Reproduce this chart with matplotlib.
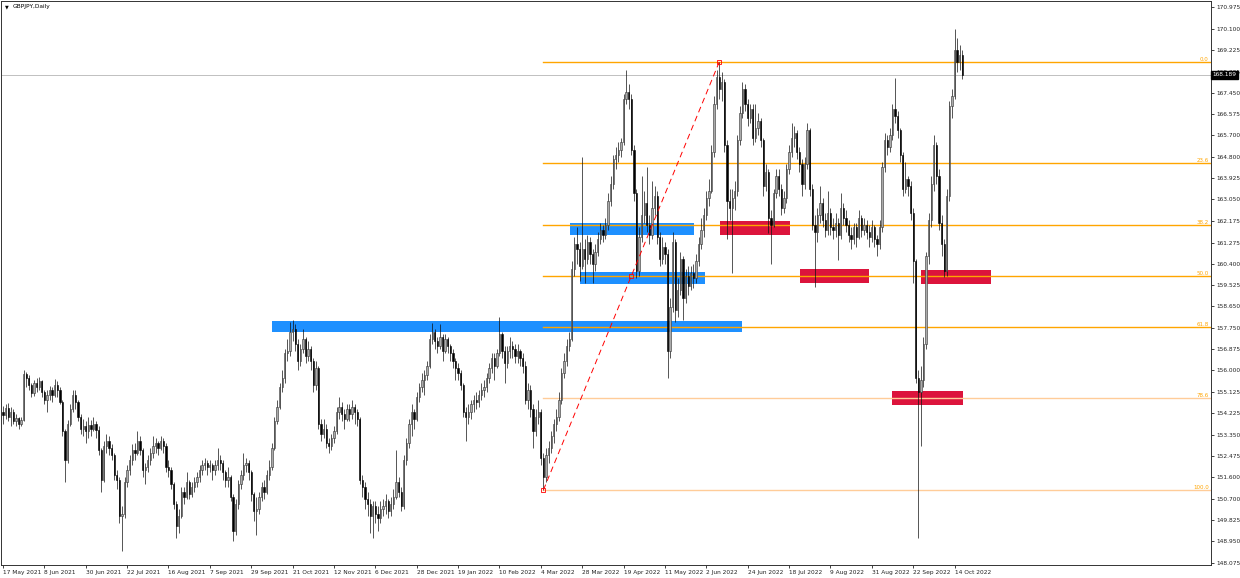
import matplotlib
matplotlib.use('Agg')
import matplotlib.pyplot as plt
from matplotlib.patches import Rectangle
import matplotlib.transforms as mtransforms
import numpy as np

symbol = 'GBPJPY,Daily'

# daily bars, 17 May 2021 .. 21 Oct 2022 (weekdays)
first_open = 154.30
closes = [154.15, 154.45, 154.10, 154.30, 153.90, 154.05, 153.80, 153.95, 155.85, 155.70,
          155.40, 155.05, 155.50, 155.30, 155.55, 155.10, 154.80, 155.00, 155.20, 155.00,
          155.40, 155.20, 154.70, 153.50, 152.30, 153.80, 154.40, 155.00, 154.70, 154.10,
          153.60, 153.70, 153.50, 153.75, 153.60, 153.80, 153.55, 152.70, 151.50, 152.90,
          153.10, 152.80, 152.50, 151.70, 151.50, 150.00, 150.10, 151.40, 151.90, 152.30,
          152.70, 152.60, 153.10, 152.70, 151.90, 152.00, 152.30, 152.60, 152.90, 153.00,
          152.80, 153.10, 152.90, 152.00, 151.90, 151.30, 150.50, 149.60, 150.00, 151.00,
          150.80, 151.40, 150.90, 151.20, 151.40, 151.60, 151.90, 152.10, 152.20, 152.00,
          152.10, 151.90, 152.10, 152.30, 152.20, 151.80, 151.50, 151.60, 150.80, 149.40,
          150.50, 151.30, 151.70, 152.10, 152.20, 151.80, 150.90, 150.20, 150.30, 150.80,
          151.20, 151.00, 151.70, 152.00, 152.80, 153.90, 154.50, 155.30, 155.70, 156.70,
          156.80, 157.60, 157.70, 157.10, 156.40, 156.90, 157.30, 156.60, 156.90, 156.40,
          155.40, 156.10, 153.80, 153.40, 153.60, 153.00, 152.90, 153.20, 153.50, 154.30,
          154.50, 154.20, 154.00, 154.40, 154.20, 154.50, 154.30, 154.00, 151.50, 151.20,
          150.70, 150.50, 150.00, 150.40, 150.10, 149.90, 150.30, 150.40, 150.60, 150.20,
          150.50, 150.80, 151.40, 151.00, 150.40, 152.30, 153.00, 153.80, 154.30, 154.00,
          154.90, 155.30, 155.60, 155.80, 156.20, 157.30, 157.60, 157.20, 157.00, 157.40,
          156.80, 157.30, 157.00, 156.70, 156.40, 156.10, 155.90, 155.40, 154.30, 154.10,
          154.30, 154.60, 154.80, 154.70, 155.00, 155.20, 155.30, 155.70, 156.10, 156.50,
          156.20, 156.70, 157.50, 156.80, 156.30, 156.80, 157.00, 156.90, 156.60, 156.80,
          156.50, 156.20, 154.80, 155.20, 154.40, 153.50, 154.10, 154.30, 152.40, 151.60,
          152.50, 152.80, 153.30, 153.80, 154.10, 154.80, 155.90, 156.40, 157.00, 157.30,
          160.20, 161.20, 161.00, 160.30, 161.00, 160.60, 161.30, 160.80, 160.40, 160.90,
          161.40, 161.80, 161.60, 162.00, 163.00, 163.70, 164.70, 164.90, 165.10, 165.40,
          167.20, 167.50, 167.20, 165.10, 163.30, 160.10, 161.50, 162.40, 162.90, 162.00,
          161.60, 162.70, 163.20, 161.50, 160.60, 161.10, 160.80, 156.80, 158.60, 161.30,
          158.50, 159.30, 160.60, 159.00, 159.90, 159.50, 160.00, 159.80, 160.50, 161.20,
          161.80, 162.40, 163.10, 163.40, 165.00, 167.00, 168.10, 167.60, 167.90, 165.30,
          163.00, 162.70, 163.10, 163.40, 165.50, 166.60, 167.60, 167.00, 166.40, 166.80,
          165.60, 166.00, 166.30, 165.50, 163.60, 164.20, 162.30, 162.00, 163.30, 164.00,
          163.50, 162.70, 163.10, 164.30, 165.00, 165.60, 165.80, 165.00, 164.50, 163.70,
          164.50, 165.90, 163.50, 162.00, 161.70, 162.40, 162.90, 162.20, 161.80, 162.50,
          161.90, 161.80, 162.10, 161.60, 162.70, 162.30, 162.00, 161.60, 161.40, 161.90,
          161.50, 162.30, 161.80, 162.00, 161.70, 161.50, 161.90, 161.40, 161.20, 161.90,
          164.40, 165.50, 165.20, 165.70, 166.80, 166.50, 165.90, 164.90, 163.50, 163.90,
          163.60, 162.50, 160.50, 155.70, 155.10, 155.60, 157.10, 160.70, 162.20, 163.70,
          165.30, 164.00, 162.10, 161.20, 160.10, 163.20, 166.90, 167.30, 169.20, 168.70,
          169.00, 168.19]
highs = [154.55, 154.60, 154.65, 154.50, 154.40, 154.20, 154.10, 154.10, 156.00, 155.95,
         155.80, 155.50, 155.60, 155.70, 155.75, 155.60, 155.20, 155.20, 155.35, 155.30,
         155.65, 155.55, 155.30, 154.80, 153.60, 153.95, 154.60, 155.20, 155.20, 154.80,
         154.20, 154.00, 153.90, 154.10, 153.95, 154.10, 153.90, 153.70, 152.80, 153.10,
         153.40, 153.30, 152.95, 152.60, 151.90, 151.60, 150.40, 151.60, 152.10, 152.50,
         152.95, 153.00, 153.50, 153.30, 152.80, 152.20, 152.50, 152.80, 153.30, 153.20,
         153.10, 153.30, 153.20, 153.00, 152.30, 152.00, 151.40, 150.60, 150.30, 151.20,
         151.20, 151.80, 151.50, 151.40, 151.60, 151.80, 152.10, 152.30, 152.40, 152.30,
         152.30, 152.20, 152.30, 152.80, 152.50, 152.30, 151.90, 152.00, 151.70, 150.90,
         150.70, 151.50, 151.90, 152.60, 152.40, 152.30, 151.90, 151.00, 150.80, 151.00,
         151.40, 151.50, 151.90, 152.30, 153.00, 154.10, 154.80, 155.50, 156.00, 156.90,
         157.30, 158.00, 158.10, 157.90, 157.30, 157.10, 157.70, 157.40, 157.20, 157.00,
         156.50, 156.40, 156.20, 154.00, 154.00, 153.80, 153.20, 153.40, 153.70, 154.50,
         154.90, 154.70, 154.40, 154.60, 154.60, 154.80, 154.60, 154.40, 154.10, 151.70,
         151.40, 151.00, 150.70, 150.60, 150.60, 150.40, 150.60, 150.70, 150.90, 150.70,
         150.80, 151.10, 152.70, 151.60, 151.20, 152.50, 153.20, 154.00, 154.60, 154.40,
         155.10, 155.50, 155.90, 156.00, 156.40, 157.50, 157.95, 157.70, 157.40, 157.90,
         157.50, 157.50, 157.40, 157.10, 156.90, 156.50, 156.30, 156.00, 155.50, 154.50,
         154.60, 154.80, 155.00, 155.10, 155.20, 155.50, 155.60, 155.90, 156.30, 156.70,
         156.70, 156.90, 158.20, 157.60, 157.00, 157.00, 157.40, 157.20, 157.10, 157.10,
         156.90, 156.70, 156.40, 155.50, 155.40, 154.60, 154.40, 154.80, 154.40, 152.60,
         152.80, 153.10, 153.50, 154.00, 154.40, 155.10, 156.10, 156.70, 157.30, 157.60,
         160.50, 161.50, 161.90, 161.30, 164.80, 161.40, 161.60, 161.50, 161.00, 161.20,
         161.70, 162.10, 162.00, 162.30, 163.30, 164.00, 164.90, 165.20, 165.40, 165.60,
         167.40, 168.40, 167.80, 167.40, 165.30, 163.50, 161.90, 164.00, 163.40, 164.40,
         162.40, 163.80, 163.60, 163.40, 161.70, 161.50, 161.30, 161.00, 159.00, 161.70,
         161.40, 159.80, 160.90, 160.70, 160.20, 160.30, 160.30, 160.40, 160.80, 161.50,
         162.30, 162.70, 163.40, 163.90, 165.30, 167.30, 168.40, 168.72, 168.30, 168.00,
         165.50, 163.50, 163.50, 163.80, 165.70, 166.90, 167.90, 167.80, 167.20, 167.00,
         167.00, 167.00, 166.60, 166.40, 165.60, 164.50, 164.30, 162.60, 163.50, 164.30,
         164.30, 163.70, 163.40, 164.50, 165.30, 166.20, 166.10, 165.90, 165.20, 164.70,
         164.80, 166.20, 166.00, 163.70, 162.40, 162.70, 163.60, 163.10, 162.50, 163.40,
         162.70, 162.30, 162.50, 162.30, 163.30, 162.90, 162.60, 162.20, 161.90, 162.10,
         162.10, 162.60, 162.40, 162.30, 162.20, 162.00, 162.20, 162.00, 161.60, 162.20,
         164.60, 165.80, 165.70, 166.00, 167.00, 168.05, 166.70, 166.00, 165.00, 164.60,
         164.00, 163.80, 162.70, 160.60, 156.00, 156.20, 157.40, 160.90, 162.50, 164.00,
         165.70, 165.40, 164.30, 162.40, 161.40, 163.50, 167.10, 167.60, 170.10, 169.70,
         169.40, 169.20]
lows = [153.80, 154.00, 153.90, 153.70, 153.80, 153.70, 153.60, 153.70, 153.90, 155.30,
        155.20, 154.90, 154.95, 155.10, 155.20, 154.90, 154.60, 154.30, 154.80, 154.70,
        154.90, 154.90, 154.60, 153.30, 151.40, 152.20, 153.70, 154.30, 154.40, 153.90,
        153.40, 153.30, 153.00, 153.20, 153.30, 153.50, 153.20, 152.50, 151.00, 151.40,
        152.60, 152.50, 152.30, 151.50, 151.10, 149.70, 148.55, 149.90, 151.20, 151.70,
        152.10, 152.30, 152.50, 152.50, 151.60, 151.30, 151.80, 152.10, 152.40, 152.60,
        152.50, 152.70, 152.60, 151.80, 151.60, 151.10, 150.30, 149.10, 149.30, 149.90,
        150.50, 150.70, 150.70, 150.80, 151.00, 151.20, 151.40, 151.70, 151.90, 151.70,
        151.80, 151.50, 151.70, 151.90, 151.90, 151.50, 151.20, 151.20, 150.60, 148.95,
        149.20, 150.30, 151.10, 151.50, 151.80, 151.50, 150.60, 149.80, 149.20, 150.10,
        150.60, 150.70, 150.90, 151.50, 151.90, 152.70, 153.80, 154.40, 155.10, 155.50,
        156.40, 156.60, 157.20, 156.80, 156.00, 156.20, 156.70, 156.30, 156.40, 156.00,
        155.10, 155.20, 153.60, 153.10, 153.20, 152.80, 152.60, 152.70, 153.00, 153.40,
        154.00, 153.90, 153.60, 153.90, 153.90, 154.00, 153.80, 153.70, 151.30, 150.80,
        150.30, 150.00, 149.30, 149.10, 149.70, 149.40, 149.70, 150.00, 150.10, 149.90,
        150.00, 150.30, 150.70, 150.80, 150.20, 150.30, 152.10, 152.80, 153.30, 153.60,
        153.90, 154.70, 155.10, 155.00, 155.60, 156.10, 157.10, 156.90, 156.70, 156.90,
        156.40, 156.70, 156.70, 156.40, 156.10, 155.60, 155.60, 155.20, 154.10, 153.10,
        153.80, 154.00, 154.30, 154.40, 154.50, 154.80, 154.90, 155.10, 155.50, 155.90,
        155.60, 156.10, 156.60, 156.50, 155.50, 156.10, 156.50, 156.50, 156.30, 156.30,
        156.20, 155.90, 154.60, 154.40, 154.10, 152.80, 153.30, 153.80, 152.10, 151.07,
        151.40, 152.20, 152.60, 153.00, 153.50, 153.90, 154.60, 155.70, 156.20, 156.80,
        157.20, 159.90, 160.40, 159.70, 160.20, 159.60, 160.40, 160.40, 159.60, 160.10,
        160.70, 161.20, 161.30, 161.40, 161.80, 162.80, 163.50, 164.30, 164.60, 164.80,
        165.30, 167.00, 166.80, 164.90, 163.00, 159.80, 159.90, 161.30, 162.10, 161.70,
        161.20, 161.40, 162.40, 161.20, 160.30, 160.40, 160.40, 155.70, 156.50, 158.40,
        158.00, 158.20, 159.10, 158.10, 158.80, 159.10, 159.30, 159.40, 159.60, 160.30,
        161.00, 161.50, 162.20, 162.80, 163.30, 164.80, 166.80, 167.20, 167.10, 165.00,
        161.40, 162.20, 160.00, 162.60, 163.20, 165.30, 166.40, 166.70, 166.10, 166.20,
        165.30, 165.40, 165.70, 165.20, 163.20, 163.40, 161.65, 160.40, 161.90, 163.10,
        163.20, 162.40, 162.50, 162.90, 164.10, 164.80, 165.20, 164.70, 164.20, 163.20,
        163.50, 164.30, 163.20, 161.80, 159.45, 161.30, 162.10, 161.90, 161.50, 161.60,
        161.60, 161.40, 161.50, 160.55, 161.40, 162.00, 161.70, 161.30, 161.00, 161.20,
        161.10, 161.40, 161.50, 161.60, 161.40, 161.10, 161.30, 161.10, 160.70, 161.00,
        161.70, 164.20, 164.90, 165.00, 165.50, 166.20, 165.60, 164.60, 163.20, 163.30,
        163.20, 162.20, 159.60, 155.50, 149.10, 152.90, 155.30, 156.90, 160.40, 161.90,
        163.40, 163.70, 161.80, 160.70, 159.85, 159.90, 163.00, 166.40, 167.20, 168.30,
        168.40, 168.00]

date_labels = ['17 May 2021', '8 Jun 2021', '30 Jun 2021', '22 Jul 2021', '16 Aug 2021',
               '7 Sep 2021', '29 Sep 2021', '21 Oct 2021', '12 Nov 2021', '6 Dec 2021',
               '28 Dec 2021', '19 Jan 2022', '10 Feb 2022', '4 Mar 2022', '28 Mar 2022',
               '19 Apr 2022', '11 May 2022', '2 Jun 2022', '24 Jun 2022', '18 Jul 2022',
               '9 Aug 2022', '31 Aug 2022', '22 Sep 2022', '14 Oct 2022']
bars_per_label = 16

price_ticks = [170.975, 170.100, 169.225, 168.325, 167.450, 166.575, 165.700, 164.800,
               163.925, 163.050, 162.175, 161.275, 160.400, 159.525, 158.650, 157.750,
               156.875, 156.000, 155.125, 154.225, 153.350, 152.475, 151.600, 150.700,
               149.825, 148.950, 148.075]
last_price = 168.189

# fibonacci retracement: low bar -> high bar
fib_low = (209, 151.07)
fib_high = (277, 168.72)
fib_levels = [0.0, 23.6, 38.2, 50.0, 61.8, 78.6, 100.0]

# zones: (start bar, end bar, low, high)
blue_zones = [(104.0, 286.0, 157.57, 158.02),
              (219.2, 267.1, 161.57, 162.08),
              (223.0, 271.4, 159.58, 160.05)]
red_zones = [(277.2, 304.2, 161.57, 162.15),
             (308.1, 334.8, 159.59, 160.18),
             (355.2, 382.3, 159.57, 160.14),
             (344.0, 371.1, 154.58, 155.15)]

opens = [first_open] + closes[:-1]
n = len(closes)
x = np.arange(n)
o = np.array(opens)
c = np.array(closes)
h = np.maximum(np.array(highs), np.maximum(o, c))
l = np.minimum(np.array(lows), np.minimum(o, c))

fig = plt.figure(figsize=(12.4, 5.78), dpi=100)
fig.patch.set_facecolor('white')
ax = fig.add_axes([1 / 1240, 13.5 / 578, 1209.5 / 1240, 563.5 / 578])
ax.set_xlim(-0.77, 467.0)
ax.set_ylim(147.998, 171.235)

for s0, s1, lo, hi in blue_zones:
    ax.add_patch(Rectangle((s0, lo), s1 - s0, hi - lo, facecolor='#1E90FF',
                           edgecolor='none', zorder=1))
for s0, s1, lo, hi in red_zones:
    ax.add_patch(Rectangle((s0, lo), s1 - s0, hi - lo, facecolor='#DC143C',
                           edgecolor='none', zorder=1))

# current price line
ax.axhline(last_price, color='#C0C0C0', lw=0.7, zorder=1.5)

# fib levels
rng = fib_high[1] - fib_low[1]
blend = mtransforms.blended_transform_factory(ax.transAxes, ax.transData)
for lv in fib_levels:
    p = fib_high[1] - rng * lv / 100.0
    col = '#FFA500' if lv < 70 else '#FFCC99'
    ax.plot([fib_low[0], 467.0], [p, p], color=col, lw=1.0, zorder=2.5)
    ax.text(0.9985, p, '%.1f' % lv, transform=blend,
            ha='right', va='bottom', fontsize=4, color='#FFA500', zorder=6)

ax.plot([fib_low[0], fib_high[0]], [fib_low[1], fib_high[1]], color='#FF0000', lw=0.7,
        ls=(0, (6, 4)), zorder=4)
mid = ((fib_low[0] + fib_high[0]) / 2, (fib_low[1] + fib_high[1]) / 2)
ax.plot([fib_low[0], mid[0], fib_high[0]], [fib_low[1], mid[1], fib_high[1]], ls='none',
        marker='s', ms=2.2, mfc='none', mec='#FF0000', mew=0.6, zorder=4)

# candles
ax.vlines(x, l, h, color='#111111', lw=0.5, zorder=3)
up = c >= o
body_lo = np.minimum(o, c)
body_h = np.maximum(np.abs(c - o), 0.02)
ax.bar(x[up], body_h[up], bottom=body_lo[up], width=0.5, color='#AAAAAA',
       edgecolor='#333333', lw=0.4, zorder=3.2)
ax.bar(x[~up], body_h[~up], bottom=body_lo[~up], width=0.5, color='black',
       edgecolor='black', lw=0.4, zorder=3.2)

# axes
ax.yaxis.tick_right()
ax.set_yticks(price_ticks)
ax.set_yticklabels(['%.3f' % t for t in price_ticks])
ax.set_xticks([i * bars_per_label for i in range(len(date_labels))])
ax.set_xticklabels(date_labels, ha='left')
ax.tick_params(axis='y', direction='out', length=2.5, width=0.6, pad=2, labelsize=4.2,
               colors='#222222')
ax.tick_params(axis='x', direction='out', length=2.5, width=0.6, pad=1.5, labelsize=4.2,
               colors='#222222')
for sp in ax.spines.values():
    sp.set_linewidth(0.7)
    sp.set_color('#333333')

ax.text(1.0015, last_price, '%.3f' % last_price, transform=blend,
        ha='left', va='center', fontsize=4.2, color='white', clip_on=False, zorder=10,
        bbox=dict(boxstyle='square,pad=0.25', fc='black', ec='black'))

ax.text(0.0035, 0.9895, '\u25bc', transform=ax.transAxes, ha='left', va='center',
        fontsize=3.5, color='black')
ax.text(0.0095, 0.9895, symbol, transform=ax.transAxes, ha='left', va='center',
        fontsize=4.2, color='black')

fig.savefig('out.png', dpi=100, facecolor='white')
